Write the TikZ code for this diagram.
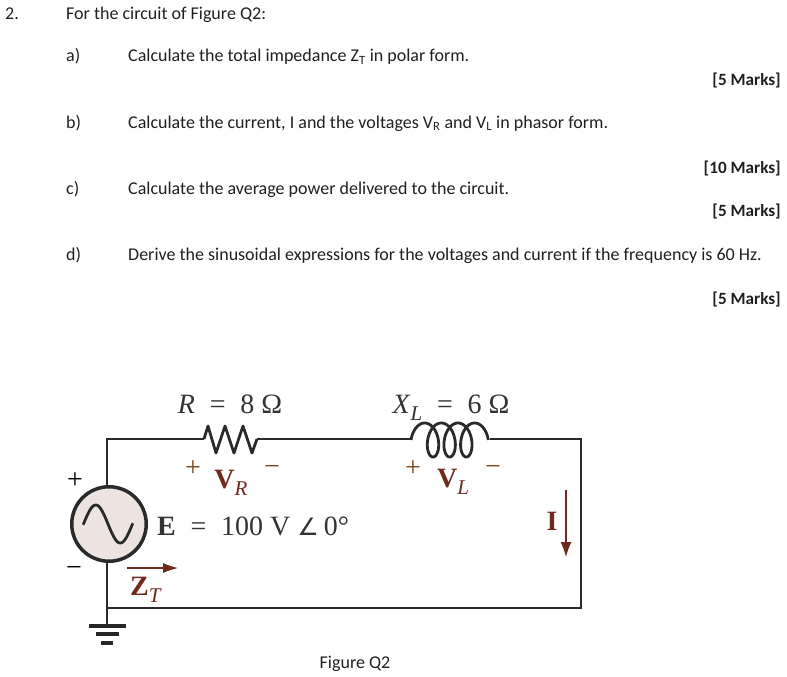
\documentclass[tikz,border=0pt]{standalone}
\usepackage{fontspec}
\usetikzlibrary{arrows.meta}
\setmainfont{Carlito}
\newfontfamily\serif{Liberation Serif}
\newfontfamily\symb{DejaVu Sans}
\definecolor{wire}{HTML}{2A2A2A}
\definecolor{brownred}{HTML}{6E2A1C}
\definecolor{plusc}{HTML}{7A4A20}
\definecolor{srcfill}{HTML}{EDE3E0}
\tikzset{
  txt/.style={anchor=base west,inner sep=0pt,font=\fontsize{18}{20}\selectfont,text=black!88},
  marks/.style={anchor=base east,inner sep=0pt,font=\bfseries\fontsize{17.2}{19}\selectfont,text=black!88},
  ckt/.style={inner sep=0pt,anchor=base,font=\serif\fontsize{28}{30}\selectfont,text=black!80},
  sign/.style={inner sep=0pt,anchor=center,font=\serif\fontsize{28}{30}\selectfont},
  wireline/.style={draw=wire,line width=1.6pt},
  comp/.style={draw=wire,line width=2.8pt,line join=round},
  gbar/.style={fill=black!85,inner sep=0pt,minimum height=4.5pt}
}
\begin{document}
\begin{tikzpicture}[x=1pt,y=-1pt]
\useasboundingbox (0,0) rectangle (787,677);
\node[txt] (n2) at (5,20) {2.};
\node[txt] (q) at (66,20) {For the circuit of Figure Q2:};
\node[txt] (la) at (66,62) {a)};
\node[txt] (ta) at (128,62) {Calculate the total impedance Z\textsubscript{T} in polar form.};
\node[marks] (ma) at (781,85) {[5 Marks]};
\node[txt] (lb) at (66,128) {b)};
\node[txt] (tb) at (128,128) {Calculate the current, I and the voltages V\textsubscript{R} and V\textsubscript{L} in phasor form.};
\node[marks] (mb) at (781,173) {[10 Marks]};
\node[txt] (lc) at (66,194) {c)};
\node[txt] (tc) at (128,194) {Calculate the average power delivered to the circuit.};
\node[marks] (mc) at (781,216) {[5 Marks]};
\node[txt] (ld) at (66,260) {d)};
\node[txt] (td) at (128,260) {Derive the sinusoidal expressions for the voltages and current if the frequency is 60 Hz.};
\node[marks] (md) at (781,304) {[5 Marks]};
\node[txt,anchor=base] (fig) at (355,668) {Figure Q2};

% circuit
\node[circle,draw=wire,line width=3.5pt,fill=srcfill,minimum size=74.5pt,inner sep=0pt] (src) at (109,524) {};
\coordinate (rl) at (204,439);
\coordinate (rr) at (257,439);
\coordinate (ll) at (411,439);
\coordinate (lr) at (490,439);
\coordinate (tr) at (581,439);
\coordinate (br) at (581,608);
\coordinate (bl) at (107,608);
\coordinate (g) at (107,626);
\coordinate (tl) at (107,439);
\draw[wireline] (src.north -| tl) -- (tl) -- (rl);
\draw[wireline] (rr) -- (ll);
\draw[wireline] (lr) -- (tr) -- (br) -- (bl);
\draw[wireline] (src.south -| g) -- (g);
\draw[comp] (rl) -- (208,426) -- (216,453) -- (225,426) -- (234,453) -- (243,426) -- (252,453) -- (rr);
\draw[comp] plot[domain=-1.5708:20.42,samples=240,smooth] ({433+2.65*(\x-3.1416)+9.5*sin(\x r)},{440-17*cos(\x r)});
\draw[line width=2.8pt,draw=wire,line cap=round] plot[domain=-3.1416:3.1416,samples=50,smooth] ({108+7.8*\x},{524+19*sin(\x r)});
\node[gbar,minimum width=37pt] (g1) at (107,626) {};
\node[gbar,minimum width=23pt] (g2) at (107,634) {};
\node[gbar,minimum width=12pt] (g3) at (107,643) {};

\node[ckt] (r) at (230,413) {\textit{R}\; =\; 8 Ω};
\node[ckt] (x) at (451,413) {\textit{X}\raisebox{-7pt}{\fontsize{21}{21}\selectfont\textit{L}}\; =\; 6 Ω};
\node[sign,text=plusc] (rp) at (193,469) {+};
\node[sign,text=plusc] (rm) at (272,470) {−};
\node[sign,text=plusc] (lp) at (413,469) {+};
\node[sign,text=plusc] (lm) at (493,470) {−};
\node[ckt,text=brownred] (vr) at (231,488) {\textbf{V}\raisebox{-7pt}{\fontsize{21}{21}\selectfont\textit{R}}};
\node[ckt,text=brownred] (vl) at (453,487) {\textbf{V}\raisebox{-7pt}{\fontsize{21}{21}\selectfont\textit{L}}};
\node[sign] (sp) at (75,481) {+};
\node[sign] (sm) at (74,571) {−};
\node[ckt,anchor=base west] (e) at (157,535) {\textbf{E}\; =\; 100 V {\symb\fontsize{24}{24}\selectfont ∠}\kern-2pt\ 0°};
\node[ckt,text=brownred] (z) at (146,595) {\textbf{Z}\raisebox{-7pt}{\fontsize{21}{21}\selectfont\textit{T}}};
\node[ckt,text=brownred] (i) at (552,530) {\textbf{I}};
\coordinate (za) at (127,568);
\coordinate (zb) at (178,568);
\coordinate (ia) at (566,490);
\coordinate (ib) at (566,557);
\draw[brownred,line width=1.1pt,-{Latex[length=15pt,width=10pt]}] (za) -- (zb);
\draw[brownred,line width=1.1pt,-{Latex[length=15pt,width=11pt]}] (ia) -- (ib);
\end{tikzpicture}
\end{document}
